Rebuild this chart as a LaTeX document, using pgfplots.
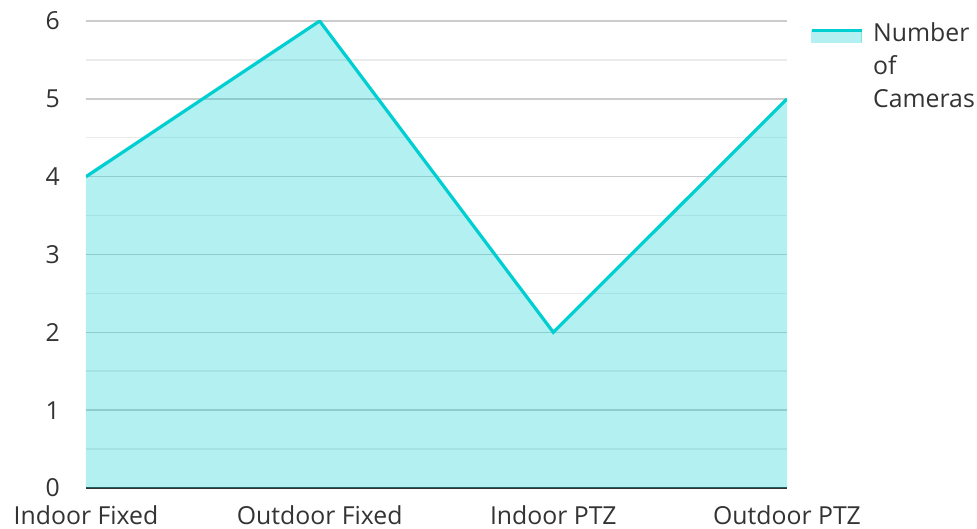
\documentclass[border=0pt]{standalone}
\usepackage{fontspec}
\setmainfont{Open Sans}
\usepackage{pgfplots}
\pgfplotsset{compat=1.18}
\definecolor{linec}{HTML}{00CED1}
\definecolor{majg}{HTML}{CCCCCC}
\definecolor{ming}{HTML}{EBEBEB}
\definecolor{axc}{HTML}{333333}
\definecolor{txt}{HTML}{333333}
\begin{document}
\begin{tikzpicture}[x=1pt,y=1pt]
\begin{axis}[
  at={(0,0)}, anchor=south west, scale only axis,
  width=701pt, height=467pt,
  xmin=0, xmax=3, ymin=0, ymax=6, enlargelimits=false,
  xtick={0,1,2,3},
  xticklabels={Indoor Fixed, Outdoor Fixed, Indoor PTZ, Outdoor PTZ},
  ytick={0,1,2,3,4,5,6},
  minor ytick={0.5,1.5,2.5,3.5,4.5,5.5},
  ymajorgrids, yminorgrids,
  major grid style={majg, line width=1.5pt},
  minor grid style={ming, line width=1.5pt},
  axis x line*=bottom, axis y line*=left,
  x axis line style={axc, line width=2pt, -},
  y axis line style={draw=none},
  major tick length=0pt, minor tick length=0pt,
  tick style={draw=none},
  /pgf/number format/assume math mode=true,
  ticklabel style={font=\fontsize{24.8}{28}\selectfont, text=txt, inner sep=0pt},
  yticklabel style={anchor=east, xshift=-26pt},
  xticklabel style={anchor=north, yshift=-17pt},
  legend cell align=left,
  legend style={at={(axis description cs:1.0325,0.996)}, anchor=north west,
    draw=none, fill=none, inner sep=0pt, column sep=10pt,
    font=\fontsize{24.8}{33}\selectfont,
    nodes={align=left, text=txt, inner sep=0pt}},
]
\addplot[draw=none, fill=linec, fill opacity=0.3, forget plot]
  coordinates {(0,4) (1,6) (2,2) (3,5)} \closedcycle;
\addplot[linec, line width=3.2pt, mark=none, forget plot]
  coordinates {(0,4) (1,6) (2,2) (3,5)};
\addlegendimage{legend image code/.code={
  \fill[linec, opacity=0.3] (0pt,24pt) rectangle (50pt,36pt);
  \draw[linec, line width=3.2pt] (0pt,36pt)--(50pt,36pt);}}
\addlegendentry{Number\\of\\Cameras}
\end{axis}
\path[use as bounding box] (-86,-41) rectangle (891,488);
\end{tikzpicture}
\end{document}
